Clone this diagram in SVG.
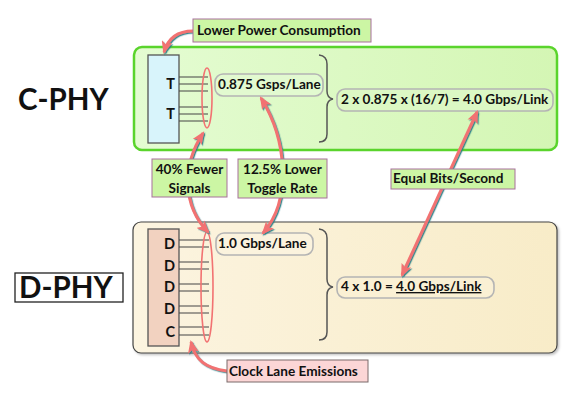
<svg xmlns="http://www.w3.org/2000/svg" width="576" height="407" viewBox="0 0 576 407">
<defs>
<linearGradient id="gC" x1="0" y1="0" x2="1" y2="0"><stop offset="0" stop-color="#e4fcd2"/><stop offset="1" stop-color="#d4f6b4"/></linearGradient>
<linearGradient id="gD" x1="0" y1="0" x2="1" y2="0"><stop offset="0" stop-color="#fcf4e0"/><stop offset="1" stop-color="#f8ecc8"/></linearGradient>
<marker id="ah" viewBox="0 0 12 10" refX="10" refY="5" markerWidth="13" markerHeight="11" markerUnits="userSpaceOnUse" orient="auto-start-reverse"><path d="M0 0 L12 5 L0 10 L3 5 Z" fill="#f27272"/></marker>
<filter id="sh" x="-20%" y="-20%" width="140%" height="140%"><feDropShadow dx="1.2" dy="1.2" stdDeviation="0.4" flood-color="#2b7f86" flood-opacity="0.9"/></filter>
<filter id="bs" x="-5%" y="-5%" width="110%" height="115%"><feDropShadow dx="1.5" dy="1.5" stdDeviation="1" flood-color="#000" flood-opacity="0.25"/></filter>
</defs>
<style>
text{font-family:Lato,"Liberation Sans",sans-serif;font-weight:bold;fill:#111}
.big{font-size:29.5px}
.t{font-size:13.6px}
.lt{font-size:14.5px;text-anchor:end}
.pill{stroke:#b4b4b4;stroke-width:1.6}
.lane{stroke:#444;stroke-width:1.2}
.ell{fill:none;stroke:#f27272;stroke-width:1.6}
.brace{fill:none;stroke:#555;stroke-width:1.5}
.gl{fill:#ccf6a4;stroke:#a8709c;stroke-width:1}
.arr{fill:none;stroke:#f27272;stroke-width:3}
</style>

<g id="cphy-title"><text class="big" x="18" y="110">C-PHY</text></g>
<g id="dphy-title"><rect x="15" y="273" width="108" height="29" fill="#fff" stroke="#222" stroke-width="1.3"/><text class="big" x="19" y="298">D-PHY</text></g>

<g id="cphy">
<rect x="134" y="47" width="423" height="103" rx="8" fill="url(#gC)" stroke="#5ad42c" stroke-width="2.5"/>
<rect x="148" y="55" width="31" height="88" fill="#d8f4fb" stroke="#555" stroke-width="1.3"/>
<text class="lt" x="175" y="89">T</text>
<text class="lt" x="175" y="119">T</text>
<path class="lane" d="M179 77H208M179 84H208M179 91H208M179 107H208M179 114H208M179 121H208"/>
<ellipse class="ell" cx="207" cy="98" rx="5" ry="30"/>
<rect class="pill" x="215" y="74" width="108" height="22" rx="8" fill="#e2fad0"/>
<text class="t" x="218" y="89">0.875 Gsps/Lane</text>
<path class="brace" d="M319 55Q327 56 327 64V91Q327 98 333 99Q327 100 327 107V134Q327 142 319 142"/>
<rect class="pill" x="337" y="89" width="216" height="22" rx="8" fill="#dcf8c4"/>
<text class="t" x="341" y="104">2 x 0.875 x (16/7) = 4.0 Gbps/Link</text>
</g>

<g id="dphy">
<rect x="133" y="222" width="424" height="131" rx="8" fill="url(#gD)" stroke="#444" stroke-width="1.2" filter="url(#bs)"/>
<rect x="148" y="229" width="31" height="117" fill="#f2d2c0" stroke="#555" stroke-width="1.3"/>
<text class="lt" x="175" y="249">D</text>
<text class="lt" x="175" y="271">D</text>
<text class="lt" x="175" y="292">D</text>
<text class="lt" x="175" y="314">D</text>
<text class="lt" x="175" y="337">C</text>
<path class="lane" d="M179 240H209M179 247H209M179 262H209M179 269H209M179 284H209M179 291H209M179 306H209M179 313H209M179 327H209M179 335H209"/>
<ellipse class="ell" cx="207" cy="287" rx="6" ry="55"/>
<rect class="pill" x="216" y="233" width="97" height="22" rx="8" fill="#fbf3de"/>
<text class="t" x="218" y="248">1.0 Gbps/Lane</text>
<path class="brace" d="M319 229Q327 230 327 238V279Q327 286 333 287Q327 288 327 295V332Q327 340 319 340"/>
<rect class="pill" x="337" y="277" width="157" height="21" rx="8" fill="#faf0d4"/>
<text class="t" x="341" y="291">4 x 1.0 = <tspan text-decoration="underline">4.0 Gbps/Link</tspan></text>
</g>

<g id="connectors" filter="url(#sh)">
<path class="arr" d="M193 31C178 31 168 38 164 52" marker-end="url(#ah)"/>
<path class="arr" d="M203 133C182 165 182 205 208 232" marker-start="url(#ah)" marker-end="url(#ah)"/>
<path class="arr" d="M261 98C287 140 292 200 263 233" marker-start="url(#ah)" marker-end="url(#ah)"/>
<path class="arr" d="M477 112L402 275" marker-start="url(#ah)" marker-end="url(#ah)"/>
<path class="arr" d="M227 371C205 368 195 360 191 342" marker-end="url(#ah)"/>
</g>

<g id="lbl-power"><rect class="gl" x="193" y="19" width="178" height="23"/><text class="t" x="197" y="35">Lower Power Consumption</text></g>
<g id="lbl-fewer"><rect class="gl" x="152" y="159" width="75" height="38" stroke="#d060d0"/><text class="t" x="189.5" y="174" text-anchor="middle">40% Fewer</text><text class="t" x="189.5" y="193" text-anchor="middle">Signals</text></g>
<g id="lbl-toggle"><rect class="gl" x="238" y="159" width="89" height="39" stroke="#d060d0"/><text class="t" x="282.5" y="174" text-anchor="middle">12.5% Lower</text><text class="t" x="282.5" y="193" text-anchor="middle">Toggle Rate</text></g>
<g id="lbl-equal"><rect class="gl" x="391" y="169" width="124" height="20"/><text class="t" x="393" y="183">Equal Bits/Second</text></g>
<g id="lbl-clock"><rect x="227" y="360" width="141" height="22" fill="#fcd6d6" stroke="#7a6a6a" stroke-width="1"/><text class="t" x="229" y="376">Clock Lane Emissions</text></g>
</svg>
